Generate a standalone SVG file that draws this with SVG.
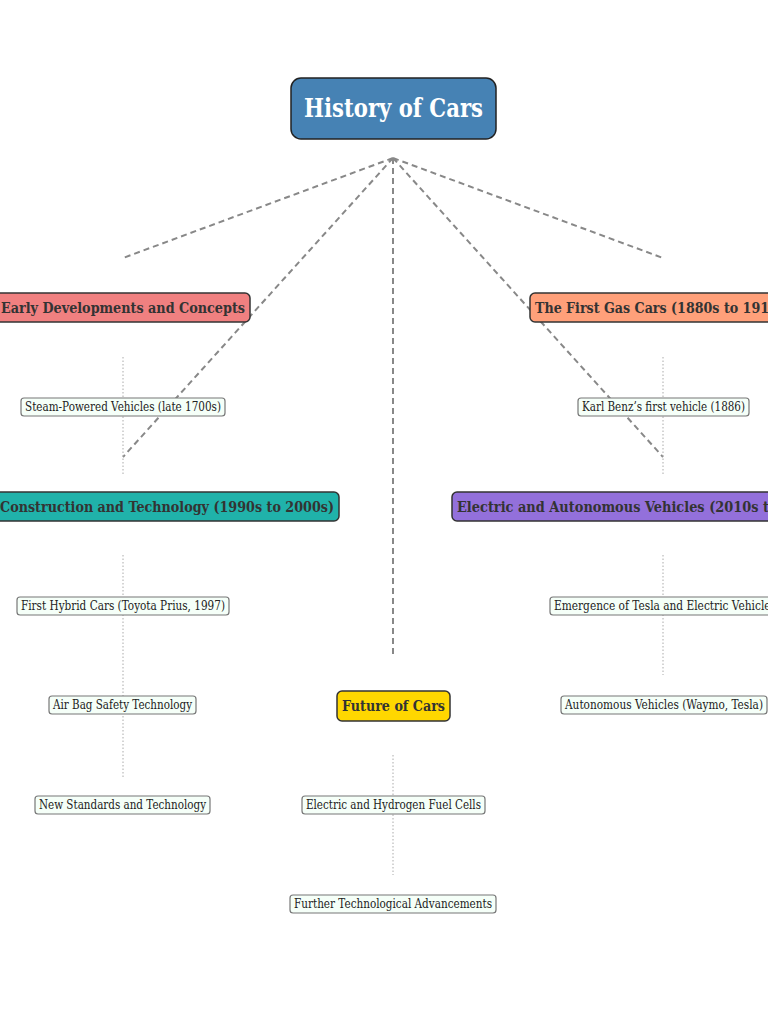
<svg xmlns="http://www.w3.org/2000/svg" width="768" height="1024" viewBox="0 0 768 1024">
<style>
.cat{stroke:#333;stroke-width:1.5}
.ct{font-family:"DejaVu Serif","Liberation Serif",serif;font-weight:bold;font-size:15px;fill:#333}
.leaf{fill:#F5FFF8;stroke:#777;stroke-width:1.2}
.lt{font-family:"DejaVu Serif","Liberation Serif",serif;font-size:12px;fill:#222;text-anchor:middle}
.dash{stroke:#888;stroke-width:2;stroke-dasharray:6,4;fill:none}
.dot{stroke:#aaa;stroke-width:1;stroke-dasharray:1.5,2;fill:none}
</style>
<rect width="768" height="1024" fill="#fff"/>
<g id="connectors">
<path class="dash" d="M393,158L123,258M393,158L663,258M393,158L123,457M393,158L663,457M393,158L393,657"/>
<path class="dot" d="M123,357V475M123,555V778M663,357V475M663,555V675M393,755V875"/>
</g>
<g id="title"><rect x="291" y="78" width="205" height="61" rx="10" fill="#4682B4" stroke="#222" stroke-width="1.5"/>
<text x="304" y="117" textLength="179" lengthAdjust="spacingAndGlyphs" font-family="DejaVu Serif,Liberation Serif,serif" font-weight="bold" font-size="26" fill="#fff">History of Cars</text></g>
<g id="early"><rect class="cat" x="-6" y="293" width="256" height="29" rx="5" fill="#F08080"/><text class="ct" x="1" y="313" textLength="244" lengthAdjust="spacingAndGlyphs">Early Developments and Concepts</text></g>
<g id="gas"><rect class="cat" x="530" y="293" width="270" height="29" rx="5" fill="#FFA07A"/><text class="ct" x="535" y="313" textLength="256" lengthAdjust="spacingAndGlyphs">The First Gas Cars (1880s to 1910s)</text></g>
<g id="construction"><rect class="cat" x="-94" y="492" width="433" height="29" rx="5" fill="#20B2AA"/><text class="ct" x="0" y="512" textLength="334" lengthAdjust="spacingAndGlyphs">Construction and Technology (1990s to 2000s)</text></g>
<g id="electric"><rect class="cat" x="452" y="492" width="424" height="29" rx="5" fill="#9370DB"/><text class="ct" x="457" y="512" textLength="387" lengthAdjust="spacingAndGlyphs">Electric and Autonomous Vehicles (2010s to Present)</text></g>
<g id="future"><rect class="cat" x="337" y="691" width="113" height="30" rx="5" fill="#FFD700"/><text class="ct" x="342" y="711" textLength="103" lengthAdjust="spacingAndGlyphs">Future of Cars</text></g>
<g id="steam"><rect class="leaf" x="21" y="398" width="204" height="18" rx="3"/><text class="lt" x="123" y="411" textLength="196" lengthAdjust="spacingAndGlyphs">Steam-Powered Vehicles (late 1700s)</text></g>
<g id="benz"><rect class="leaf" x="578" y="398" width="171" height="18" rx="3"/><text class="lt" x="663.5" y="411" textLength="163" lengthAdjust="spacingAndGlyphs">Karl Benz’s first vehicle (1886)</text></g>
<g id="hybrid"><rect class="leaf" x="17" y="597" width="212" height="18" rx="3"/><text class="lt" x="123" y="610" textLength="204" lengthAdjust="spacingAndGlyphs">First Hybrid Cars (Toyota Prius, 1997)</text></g>
<g id="tesla"><rect class="leaf" x="550" y="597" width="230" height="18" rx="3"/><text class="lt" x="665" y="610" textLength="222" lengthAdjust="spacingAndGlyphs">Emergence of Tesla and Electric Vehicles</text></g>
<g id="airbag"><rect class="leaf" x="49" y="696" width="147" height="18" rx="3"/><text class="lt" x="122.5" y="709" textLength="139" lengthAdjust="spacingAndGlyphs">Air Bag Safety Technology</text></g>
<g id="auto"><rect class="leaf" x="561" y="696" width="206" height="18" rx="3"/><text class="lt" x="664" y="709" textLength="198" lengthAdjust="spacingAndGlyphs">Autonomous Vehicles (Waymo, Tesla)</text></g>
<g id="standards"><rect class="leaf" x="35" y="796" width="175" height="18" rx="3"/><text class="lt" x="122.5" y="809" textLength="167" lengthAdjust="spacingAndGlyphs">New Standards and Technology</text></g>
<g id="fuel"><rect class="leaf" x="302" y="796" width="183" height="18" rx="3"/><text class="lt" x="393.5" y="809" textLength="175" lengthAdjust="spacingAndGlyphs">Electric and Hydrogen Fuel Cells</text></g>
<g id="further"><rect class="leaf" x="290" y="895" width="206" height="18" rx="3"/><text class="lt" x="393" y="908" textLength="198" lengthAdjust="spacingAndGlyphs">Further Technological Advancements</text></g>
</svg>
